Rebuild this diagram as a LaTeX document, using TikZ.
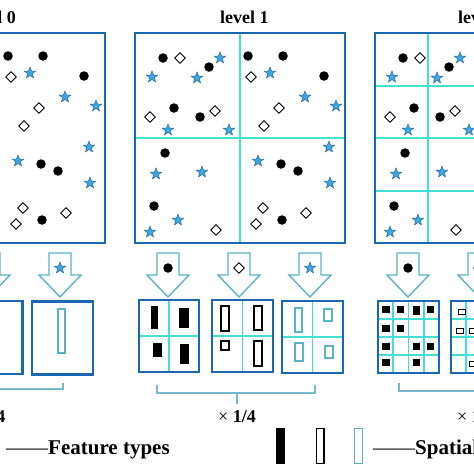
\documentclass[tikz,border=0pt]{standalone}
\usepackage{fontspec}
\setmainfont{Liberation Serif}
\usetikzlibrary{shapes.geometric}
\definecolor{boxblue}{RGB}{26,104,178}
\definecolor{gridc}{RGB}{66,224,210}
\definecolor{starfill}{RGB}{62,166,226}
\definecolor{starline}{RGB}{40,105,150}
\definecolor{arrowc}{RGB}{92,178,198}
\definecolor{tealbar}{RGB}{88,180,192}
\definecolor{bracketc}{RGB}{120,184,200}
\newcommand\markerset[1]{%
  \foreach \x/\y [count=\i] in {28/58,74/67,39/108,65/117,30/153,19/206,113/56,148/56,189/76,146/164,163/171,147/220}
    \node[mdot] (#1d\i) at (\x,\y) {};
  \foreach \x/\y [count=\i] in {45/58,15/117,80/111,81/230,116/77,144/108,129/126,128/208,171/213,121/224}
    \node[mdia] (#1q\i) at (\x,\y) {};
  \foreach \x/\y [count=\i] in {85/58,17/77,62/78,33/130,94/130,21/174,67/172,43/220,15/232,135/73,170/97,201/106,194/147,123/161,195/183}
    \node[mstar] (#1s\i) at (\x,\y) {};
}
\begin{document}
\begin{tikzpicture}[x=1pt,y=-1pt,
  outerbox/.style={draw=boxblue,line width=2.8pt},
  gridline/.style={draw=gridc,line width=1.9pt},
  histbox/.style={draw=boxblue,line width=2.2pt},
  histgrid/.style={draw=gridc,line width=1.6pt},
  arrowline/.style={draw=arrowc,line width=1.4pt,fill=white,line join=miter},
  bracket/.style={draw=bracketc,line width=1.4pt},
  blackbar/.style={fill=black},
  hollowbar/.style={draw=black,line width=1.2pt},
  tealbarst/.style={draw=tealbar,line width=1.2pt},
  mdot/.style={circle,fill=black,minimum size=9.5pt,inner sep=0pt},
  mdia/.style={diamond,draw=black,fill=white,line width=0.9pt,minimum size=11pt,inner sep=0pt},
  mstar/.style={star,star points=5,star point ratio=2.4,fill=starfill,draw=starline,line width=0.5pt,minimum size=12pt,inner sep=0pt},
  lvl/.style={font=\fontsize{18}{20}\selectfont\bfseries,inner sep=0pt},
  wt/.style={font=\fontsize{18}{20}\selectfont\bfseries,inner sep=0pt},
  leg/.style={font=\fontsize{21}{23}\selectfont\bfseries,inner sep=0pt},
  barrow/.pic={\draw[arrowline] (-11,253) -- (11,253) -- (11,275) -- (21,275) -- (0,297) -- (-21,275) -- (-11,275) -- cycle;}
]
\useasboundingbox (0,0) rectangle (474,474);
\clip (0,0) rectangle (474,474);
\fill[white] (0,0) rectangle (474,474);

% level labels
\node[lvl,anchor=base east] (lab0) at (16,23) {level 0};
\node[lvl,anchor=base west] (lab1) at (220,23) {level 1};
\node[lvl,anchor=base west] (lab2) at (458,23) {level 2};

% level 0 region
\begin{scope}[shift={(-105,0)}]
  \markerset{a}
\end{scope}
\draw[outerbox] (-105,33) rectangle (105,243);

% level 1 region
\draw[gridline] (240,33) -- (240,243);
\draw[gridline] (135,138) -- (345,138);
\begin{scope}[shift={(135,0)}]
  \markerset{b}
\end{scope}
\draw[outerbox] (135,33) rectangle (345,243);

% level 2 region
\draw[gridline] (428,33) -- (428,243);
\draw[gridline] (480,33) -- (480,243);
\draw[gridline] (533,33) -- (533,243);
\draw[gridline] (375,86) -- (585,86);
\draw[gridline] (375,138) -- (585,138);
\draw[gridline] (375,191) -- (585,191);
\begin{scope}[shift={(375,0)}]
  \markerset{c}
\end{scope}
\draw[outerbox] (375,33) rectangle (585,243);

% block arrows with icons
\foreach \cx/\ic [count=\i] in {-82/mdot,-11/mdia,60/mstar,168/mdot,239/mdia,310/mstar,408/mdot,479/mdia,550/mstar} {
  \pic at (\cx,0) {barrow};
  \node[\ic] (icon\i) at (\cx,268) {};
}

% level 0 histograms
\draw[histbox] (-38.5,301) rectangle (22.5,374);
\draw[histbox] (32,301.5) rectangle (93,374.5);
\draw[tealbarst] (58,309) rectangle (65,353);

% level 1 histograms
\draw[histgrid] (169,300) -- (169,372);
\draw[histgrid] (139,336) -- (199,336);
\draw[histbox] (139,300) rectangle (199,372);
\draw[blackbar] (151,306) rectangle (157.5,328);
\draw[blackbar] (179.5,308) rectangle (188,327);
\draw[blackbar] (153,343) rectangle (161,356);
\draw[blackbar] (180,344) rectangle (188,363);

\draw[histgrid] (242.5,300) -- (242.5,372);
\draw[histgrid] (212,336) -- (273,336);
\draw[histbox] (212,300) rectangle (273,372);
\draw[hollowbar] (221,306) rectangle (229,331);
\draw[hollowbar] (254,306) rectangle (262,330);
\draw[hollowbar] (221,341) rectangle (229,350);
\draw[hollowbar] (254,341) rectangle (262,366);

\draw[histgrid] (312.5,301) -- (312.5,373);
\draw[histgrid] (282,337) -- (343,337);
\draw[histbox] (282,301) rectangle (343,373);
\draw[tealbarst] (295,308) rectangle (302,332);
\draw[tealbarst] (324,309) rectangle (332,321);
\draw[tealbarst] (295,343) rectangle (303,361);
\draw[tealbarst] (325,346) rectangle (333,358);

% level 2 histograms
\foreach \k in {1,2,3} {
  \draw[histgrid] (378+15.25*\k,301) -- (378+15.25*\k,373);
  \draw[histgrid] (378,301+18*\k) -- (439,301+18*\k);
  \draw[histgrid] (451+15.25*\k,301) -- (451+15.25*\k,373);
  \draw[histgrid] (451,301+18*\k) -- (512,301+18*\k);
}
\draw[histbox] (378,301) rectangle (439,373);
\draw[histbox] (451,301) rectangle (512,373);
\foreach \x/\y in {386/309.5,400.5/309.5,430.5/309.5,386/328.5,400.5/328.5,386/346.5,416.5/346.5,430.5/346.5,386/362.5,416.5/362.5}
  \fill (\x-3.6,\y-3.6) rectangle (\x+3.6,\y+3.6);
\fill (413,306) rectangle (420,315);
\draw[hollowbar,line width=1pt] (458,309) rectangle (465,314.5);
\draw[hollowbar,line width=1pt] (456,328) rectangle (463,333.5);
\draw[hollowbar,line width=1pt] (469.5,328) rectangle (476.5,333.5);
\draw[hollowbar,line width=1pt] (469.5,361) rectangle (476.5,366.5);

% brackets
\coordinate (b0a) at (-120,389);
\coordinate (b0b) at (63,389);
\draw[bracket] (b0a) -- (b0b) -- ++(0,-6);
\coordinate (b1a) at (157,385);
\coordinate (b1b) at (315,385);
\draw[bracket] (b1a) -- (157,393) -- (315,393) -- (b1b);
\draw[bracket] (237,393) -- (237,404);
\coordinate (b2a) at (399,383);
\draw[bracket] (b2a) -- (399,391) -- (620,391);

% weights
\node[wt,anchor=base east] (w0) at (5.5,422) {{\mdseries ×} 1/4};
\node[wt,anchor=base] (w1) at (237,422) {{\mdseries ×} 1/4};
\node[wt,anchor=base west] (w2) at (457,422) {{\mdseries ×} 1/2};

% legend
\node[leg,anchor=base west] (legf) at (6,454) {{\mdseries ——}Feature types};
\fill (276,428) rectangle (285,464);
\draw[hollowbar,line width=1.6pt] (316.5,428.5) rectangle (324,463.5);
\draw[tealbarst,line width=1.4pt] (354.5,428.5) rectangle (362.5,463.5);
\node[leg,anchor=base west] (legs) at (373,454) {{\mdseries ——}Spatial bins};
\end{tikzpicture}
\end{document}
